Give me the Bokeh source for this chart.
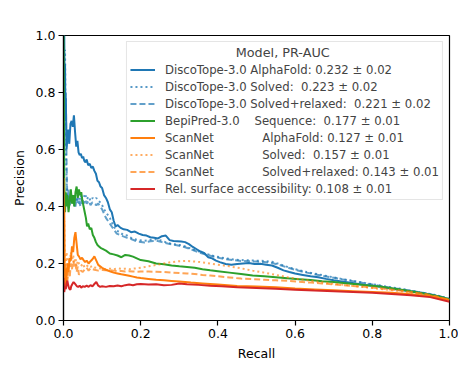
from bokeh.plotting import figure
from bokeh.models import Legend, LegendItem, FixedTicker, Range1d
from bokeh.embed import file_html
from bokeh.resources import INLINE

# ---------------- data ----------------
disco_af_r = [0.0, 0.001, 0.002, 0.003, 0.004, 0.005, 0.006, 0.008, 0.010, 0.012, 0.015, 0.018, 0.021, 0.024, 0.027, 0.030,
              0.033, 0.036, 0.039, 0.042, 0.045, 0.048, 0.051, 0.054, 0.057, 0.060, 0.064, 0.068, 0.072, 0.076, 0.080, 0.084,
              0.088, 0.092, 0.096, 0.100, 0.105, 0.110, 0.115, 0.120, 0.125, 0.130, 0.135, 0.140, 0.148, 0.156, 0.165, 0.175,
              0.185, 0.195, 0.205, 0.215, 0.225, 0.235, 0.245, 0.255, 0.265, 0.275, 0.285, 0.295, 0.305, 0.315, 0.325, 0.335,
              0.345, 0.355, 0.365, 0.375, 0.385, 0.395, 0.405, 0.42, 0.435, 0.45, 0.465, 0.48, 0.495, 0.51, 0.525, 0.54, 0.555,
              0.57, 0.585, 0.60, 0.62, 0.64, 0.66, 0.68, 0.70, 0.72, 0.74, 0.76, 0.78, 0.80, 0.82, 0.84, 0.86, 0.88, 0.90, 0.92,
              0.94, 0.96, 0.98, 1.0]
disco_af_p = [1.0, 0.75, 1.0, 0.8, 0.9, 0.7, 0.78, 0.6, 0.64, 0.67, 0.62, 0.69, 0.70, 0.68, 0.72, 0.66,
              0.61, 0.63, 0.59, 0.58, 0.585, 0.57, 0.575, 0.56, 0.555, 0.565, 0.545, 0.55, 0.535, 0.54, 0.525, 0.515,
              0.49, 0.485, 0.47, 0.465, 0.44, 0.43, 0.415, 0.39, 0.38, 0.35, 0.33, 0.335, 0.325, 0.32, 0.318, 0.31,
              0.312, 0.305, 0.30, 0.298, 0.292, 0.29, 0.288, 0.296, 0.298, 0.282, 0.279, 0.278, 0.277, 0.275, 0.268, 0.258,
              0.25, 0.242, 0.236, 0.222, 0.218, 0.21, 0.205, 0.198, 0.196, 0.198, 0.20, 0.202, 0.198, 0.199, 0.196, 0.193, 0.185,
              0.176, 0.17, 0.165, 0.16, 0.155, 0.152, 0.146, 0.141, 0.137, 0.133, 0.129, 0.125, 0.122, 0.118, 0.114, 0.11, 0.106, 0.102, 0.098,
              0.094, 0.089, 0.082, 0.074]

disco_sol_r = [0.0, 0.002, 0.004, 0.006, 0.008, 0.010, 0.013, 0.016, 0.019, 0.022, 0.025, 0.028, 0.031, 0.034, 0.037, 0.040,
               0.044, 0.048, 0.052, 0.056, 0.060, 0.065, 0.070, 0.075, 0.080, 0.085, 0.090, 0.095, 0.100, 0.105, 0.110, 0.115,
               0.120, 0.125, 0.130, 0.138, 0.146, 0.155, 0.165, 0.175, 0.185, 0.195, 0.21, 0.225, 0.24, 0.255, 0.27, 0.285,
               0.30, 0.315, 0.33, 0.345, 0.36, 0.375, 0.39, 0.405, 0.42, 0.44, 0.46, 0.48, 0.50, 0.52, 0.54, 0.56, 0.58, 0.60,
               0.63, 0.66, 0.69, 0.72, 0.75, 0.78, 0.81, 0.84, 0.87, 0.90, 0.93, 0.96, 0.98, 1.0]
disco_sol_p = [1.0, 0.85, 0.95, 0.6, 0.5, 0.40, 0.44, 0.41, 0.45, 0.42, 0.43, 0.40, 0.44, 0.42, 0.43, 0.41,
               0.44, 0.42, 0.43, 0.445, 0.425, 0.435, 0.42, 0.43, 0.425, 0.43, 0.42, 0.415, 0.405, 0.39, 0.38, 0.37,
               0.36, 0.345, 0.33, 0.315, 0.31, 0.30, 0.298, 0.29, 0.285, 0.282, 0.28, 0.283, 0.285, 0.28, 0.272, 0.268,
               0.265, 0.26, 0.252, 0.245, 0.238, 0.232, 0.226, 0.222, 0.218, 0.214, 0.212, 0.211, 0.21, 0.209, 0.206, 0.198, 0.188, 0.18,
               0.17, 0.162, 0.154, 0.146, 0.139, 0.132, 0.125, 0.118, 0.112, 0.105, 0.098, 0.09, 0.084, 0.076]

disco_rel_r = [0.0, 0.002, 0.004, 0.006, 0.008, 0.010, 0.013, 0.016, 0.019, 0.022, 0.025, 0.028, 0.031, 0.034, 0.037, 0.040,
               0.044, 0.048, 0.052, 0.056, 0.060, 0.065, 0.070, 0.075, 0.080, 0.085, 0.090, 0.095, 0.100, 0.105, 0.110, 0.115,
               0.120, 0.125, 0.130, 0.138, 0.146, 0.155, 0.165, 0.175, 0.185, 0.195, 0.21, 0.225, 0.24, 0.255, 0.27, 0.285,
               0.30, 0.315, 0.33, 0.345, 0.36, 0.375, 0.39, 0.405, 0.42, 0.44, 0.46, 0.48, 0.50, 0.52, 0.54, 0.56, 0.58, 0.60,
               0.63, 0.66, 0.69, 0.72, 0.75, 0.78, 0.81, 0.84, 0.87, 0.90, 0.93, 0.96, 0.98, 1.0]
disco_rel_p = [1.0, 0.9, 0.7, 0.8, 0.55, 0.42, 0.46, 0.40, 0.43, 0.44, 0.41, 0.42, 0.40, 0.43, 0.41, 0.42,
               0.40, 0.43, 0.41, 0.425, 0.41, 0.42, 0.405, 0.415, 0.41, 0.405, 0.41, 0.40, 0.39, 0.375, 0.36, 0.35,
               0.34, 0.33, 0.32, 0.305, 0.30, 0.295, 0.29, 0.286, 0.28, 0.276, 0.274, 0.278, 0.28, 0.275, 0.27, 0.266,
               0.262, 0.257, 0.25, 0.242, 0.235, 0.229, 0.224, 0.219, 0.215, 0.212, 0.209, 0.208, 0.207, 0.205, 0.202, 0.195, 0.186, 0.178,
               0.168, 0.16, 0.152, 0.145, 0.138, 0.131, 0.124, 0.117, 0.111, 0.104, 0.097, 0.089, 0.083, 0.075]

bepi_r = [0.0, 0.002, 0.004, 0.006, 0.008, 0.010, 0.013, 0.016, 0.019, 0.022, 0.025, 0.028, 0.031, 0.034, 0.037, 0.040,
          0.043, 0.046, 0.049, 0.052, 0.055, 0.058, 0.061, 0.064, 0.068, 0.072, 0.076, 0.080, 0.084, 0.088, 0.092, 0.096,
          0.100, 0.11, 0.12, 0.13, 0.14, 0.15, 0.16, 0.17, 0.18, 0.19, 0.20, 0.22, 0.24, 0.26, 0.28, 0.30, 0.32, 0.34,
          0.36, 0.38, 0.40, 0.43, 0.46, 0.49, 0.52, 0.55, 0.58, 0.61, 0.64, 0.67, 0.70, 0.73, 0.76, 0.79, 0.82, 0.85,
          0.88, 0.91, 0.94, 0.97, 1.0]
bepi_p = [1.0, 0.5, 0.38, 0.45, 0.40, 0.44, 0.38, 0.42, 0.46, 0.41, 0.44, 0.40, 0.45, 0.47, 0.43, 0.46,
          0.44, 0.45, 0.42, 0.40, 0.38, 0.36, 0.33, 0.34, 0.32, 0.325, 0.30, 0.29, 0.275, 0.265, 0.26, 0.255,
          0.252, 0.245, 0.235, 0.232, 0.228, 0.222, 0.23, 0.228, 0.224, 0.218, 0.212, 0.208, 0.20, 0.197, 0.193, 0.19, 0.188, 0.185,
          0.18, 0.176, 0.173, 0.168, 0.163, 0.158, 0.155, 0.152, 0.148, 0.145, 0.142, 0.138, 0.135, 0.131, 0.127, 0.123, 0.119, 0.113,
          0.107, 0.10, 0.093, 0.085, 0.075]

scan_af_r = [0.0, 0.001, 0.002, 0.003, 0.005, 0.007, 0.009, 0.011, 0.013, 0.016, 0.019, 0.022, 0.025, 0.028, 0.031, 0.034,
             0.037, 0.040, 0.044, 0.048, 0.052, 0.056, 0.060, 0.065, 0.070, 0.075, 0.080, 0.085, 0.090, 0.095, 0.10, 0.11,
             0.12, 0.13, 0.14, 0.15, 0.16, 0.17, 0.18, 0.19, 0.20, 0.22, 0.24, 0.26, 0.28, 0.30, 0.33, 0.36, 0.40, 0.45,
             0.50, 0.55, 0.60, 0.65, 0.70, 0.75, 0.80, 0.85, 0.90, 0.95, 1.0]
scan_af_p = [0.5, 0.3, 0.4, 0.2, 0.15, 0.12, 0.18, 0.2, 0.17, 0.22, 0.21, 0.26, 0.24, 0.29, 0.31, 0.27,
             0.23, 0.225, 0.215, 0.22, 0.212, 0.205, 0.21, 0.20, 0.208, 0.215, 0.225, 0.21, 0.195, 0.19, 0.185, 0.178,
             0.173, 0.168, 0.165, 0.162, 0.16, 0.157, 0.154, 0.151, 0.149, 0.146, 0.143, 0.141, 0.139, 0.137, 0.133, 0.13, 0.126, 0.121,
             0.119, 0.117, 0.112, 0.109, 0.106, 0.103, 0.10, 0.097, 0.092, 0.085, 0.072]

scan_sol_r = [0.0, 0.001, 0.002, 0.004, 0.006, 0.008, 0.010, 0.013, 0.016, 0.019, 0.022, 0.025, 0.028, 0.031, 0.034, 0.037,
              0.040, 0.045, 0.050, 0.055, 0.060, 0.065, 0.070, 0.075, 0.080, 0.090, 0.10, 0.11, 0.12, 0.13, 0.14, 0.15,
              0.16, 0.17, 0.18, 0.19, 0.20, 0.22, 0.24, 0.26, 0.28, 0.30, 0.32, 0.34, 0.36, 0.38, 0.40, 0.43, 0.46, 0.49,
              0.52, 0.55, 0.58, 0.61, 0.64, 0.67, 0.70, 0.74, 0.78, 0.82, 0.86, 0.90, 0.94, 0.97, 1.0]
scan_sol_p = [0.4, 0.25, 0.35, 0.15, 0.2, 0.24, 0.18, 0.22, 0.2, 0.24, 0.21, 0.23, 0.2, 0.22, 0.19, 0.21,
              0.2, 0.19, 0.2, 0.185, 0.19, 0.195, 0.188, 0.192, 0.186, 0.184, 0.182, 0.18, 0.182, 0.18, 0.183, 0.181,
              0.182, 0.18, 0.182, 0.183, 0.185, 0.19, 0.195, 0.2, 0.205, 0.208, 0.209, 0.207, 0.204, 0.2, 0.196, 0.19, 0.183, 0.175,
              0.168, 0.16, 0.152, 0.145, 0.139, 0.134, 0.129, 0.123, 0.117, 0.111, 0.105, 0.098, 0.09, 0.082, 0.072]

scan_rel_r = [0.0, 0.001, 0.002, 0.004, 0.006, 0.008, 0.010, 0.013, 0.016, 0.019, 0.022, 0.025, 0.028, 0.031, 0.034, 0.037,
              0.040, 0.045, 0.050, 0.055, 0.060, 0.065, 0.070, 0.075, 0.080, 0.090, 0.10, 0.11, 0.12, 0.13, 0.14, 0.15,
              0.16, 0.17, 0.18, 0.19, 0.20, 0.22, 0.24, 0.26, 0.28, 0.30, 0.32, 0.34, 0.36, 0.38, 0.40, 0.43, 0.46, 0.49,
              0.52, 0.55, 0.58, 0.61, 0.64, 0.67, 0.70, 0.74, 0.78, 0.82, 0.86, 0.90, 0.94, 0.97, 1.0]
scan_rel_p = [0.3, 0.1, 0.2, 0.12, 0.15, 0.18, 0.14, 0.17, 0.15, 0.2, 0.18, 0.21, 0.19, 0.2, 0.17, 0.19,
              0.16, 0.175, 0.17, 0.18, 0.185, 0.175, 0.183, 0.18, 0.178, 0.175, 0.177, 0.176, 0.177, 0.175, 0.173, 0.174,
              0.172, 0.173, 0.172, 0.171, 0.172, 0.172, 0.171, 0.17, 0.168, 0.167, 0.165, 0.163, 0.16, 0.158, 0.155, 0.151, 0.147, 0.145,
              0.143, 0.141, 0.139, 0.136, 0.133, 0.13, 0.127, 0.122, 0.118, 0.113, 0.107, 0.10, 0.092, 0.083, 0.072]

rsa_r = [0.0, 0.002, 0.004, 0.006, 0.008, 0.010, 0.012, 0.014, 0.016, 0.018, 0.020, 0.023, 0.026, 0.029, 0.032, 0.035,
         0.038, 0.042, 0.046, 0.050, 0.055, 0.060, 0.065, 0.070, 0.075, 0.080, 0.085, 0.090, 0.095, 0.10, 0.11, 0.12,
         0.13, 0.14, 0.15, 0.16, 0.17, 0.18, 0.19, 0.20, 0.22, 0.24, 0.26, 0.28, 0.30, 0.32, 0.35, 0.38, 0.41, 0.45,
         0.50, 0.55, 0.60, 0.65, 0.70, 0.75, 0.80, 0.85, 0.90, 0.95, 1.0]
rsa_p = [0.15, 0.1, 0.12, 0.11, 0.13, 0.14, 0.125, 0.115, 0.11, 0.108, 0.12, 0.128, 0.135, 0.13, 0.125, 0.12,
         0.118, 0.122, 0.115, 0.12, 0.118, 0.122, 0.118, 0.124, 0.12, 0.128, 0.135, 0.122, 0.118, 0.12, 0.118, 0.121,
         0.12, 0.123, 0.12, 0.124, 0.126, 0.124, 0.127, 0.128, 0.126, 0.127, 0.124, 0.125, 0.13, 0.127, 0.125, 0.122, 0.12, 0.117,
         0.114, 0.111, 0.108, 0.105, 0.103, 0.1, 0.097, 0.093, 0.089, 0.082, 0.066]

series_labels = [
    "DiscoTope-3.0 AlphaFold: 0.232 \u00b1 0.02",
    "DiscoTope-3.0 Solved:  0.223 \u00b1 0.02",
    "DiscoTope-3.0 Solved+relaxed:  0.221 \u00b1 0.02",
    "BepiPred-3.0 \u00a0\u00a0\u00a0Sequence:  0.177 \u00b1 0.01",
    "ScanNet" + "\u00a0" * 13 + "AlphaFold: 0.127 \u00b1 0.01",
    "ScanNet" + "\u00a0" * 13 + "Solved:  0.157 \u00b1 0.01",
    "ScanNet" + "\u00a0" * 13 + "Solved+relaxed: 0.143 \u00b1 0.01",
    "Rel. surface accessibility: 0.108 \u00b1 0.01",
]
legend_title = "Model, PR-AUC"
tick_values = [0.0, 0.2, 0.4, 0.6, 0.8, 1.0]
tick_labels = ["0.0", "0.2", "0.4", "0.6", "0.8", "1.0"]

# ---------------- figure ----------------
FONT = "DejaVu Sans"
p = figure(width=458, height=363, output_backend="svg", toolbar_location=None,
           x_range=Range1d(0, 1), y_range=Range1d(0, 1),
           min_border_left=63, min_border_right=9, min_border_top=35, min_border_bottom=40)
p.grid.visible = False
p.background_fill_color = "white"
p.border_fill_color = "white"
p.outline_line_color = "black"
p.outline_line_width = 1.2

series = [
    (disco_af_r, disco_af_p, "#1f77b4", "solid", 1.0),
    (disco_sol_r, disco_sol_p, "#1f77b4", "2 3", 0.75),
    (disco_rel_r, disco_rel_p, "#1f77b4", "6 3", 0.7),
    (bepi_r, bepi_p, "#2ca02c", "solid", 1.0),
    (scan_af_r, scan_af_p, "#ff7f0e", "solid", 1.0),
    (scan_sol_r, scan_sol_p, "#ff7f0e", "2 3", 0.65),
    (scan_rel_r, scan_rel_p, "#ff7f0e", "6 3", 0.7),
    (rsa_r, rsa_p, "#d62728", "solid", 1.0),
]
items = []
for (xs, ys, col, dash, alpha), lab in zip(series, series_labels):
    r = p.line(xs, ys, line_color=col, line_width=2, line_dash=dash, line_alpha=alpha)
    items.append(LegendItem(label=lab, renderers=[r]))

legend = Legend(items=items, location="top_right", margin=6, padding=3,
                title="\u00a0" * 26 + legend_title,
                title_text_font=FONT, title_text_font_size="12.8px", title_text_font_style="normal",
                title_standoff=2,
                label_text_font=FONT, label_text_font_size="11.7px",
                label_height=15, glyph_height=15, glyph_width=25, label_standoff=10, spacing=2,
                border_line_color="#cccccc", border_line_width=1,
                background_fill_color="white", background_fill_alpha=0.8)
p.add_layout(legend)

for ax in (p.xaxis, p.yaxis):
    ax.ticker = FixedTicker(ticks=tick_values)
    ax.major_label_overrides = dict(zip(tick_values, tick_labels))
    ax.major_tick_out = 5
    ax.major_tick_in = 0
    ax.minor_tick_line_color = None
    ax.axis_line_width = 1.2
    ax.major_tick_line_width = 1.2
    ax.major_label_text_font = FONT
    ax.major_label_text_font_size = "12.5px"
    ax.major_label_text_color = "black"
    ax.axis_label_text_font = FONT
    ax.axis_label_text_font_size = "12.5px"
    ax.axis_label_text_font_style = "normal"
    ax.axis_label_text_color = "black"
    ax.major_label_standoff = 3
p.xaxis.axis_label = "Recall"
p.yaxis.axis_label = "Precision"
p.xaxis.axis_label_standoff = 5
p.yaxis.axis_label_standoff = 6

open("out.html", "w").write(file_html(p, INLINE))
